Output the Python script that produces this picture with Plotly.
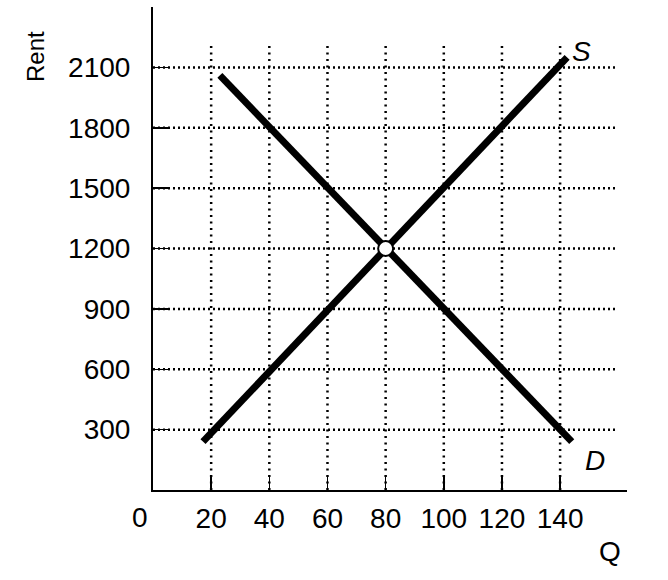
import plotly.graph_objects as go

# Data
x_ticks = [20, 40, 60, 80, 100, 120, 140]
y_ticks = [300, 600, 900, 1200, 1500, 1800, 2100]
supply_q = [17.2, 142.4]
supply_rent = [240, 2150]
demand_q = [23, 144]
demand_rent = [2060, 240]
equilibrium_q = [80]
equilibrium_rent = [1200]

FONT = "Liberation Sans"
W, H = 668, 580
L, R, T, B = 153, 41, 7, 90
PW, PH = W - L - R, H - T - B


def px(xp):
    return (xp - L) / PW


def py(yp):
    return (H - B - yp) / PH


fig = go.Figure()

hdot = dict(color="black", width=2.5, dash="2px,3px")
vdot = dict(color="black", width=2.5, dash="2px,4.5px")
shapes = []
for yv in y_ticks:
    shapes.append(dict(type="line", xref="x", yref="y", x0=0, x1=159, y0=yv, y1=yv,
                       line=hdot, layer="below"))
for xv in x_ticks:
    shapes.append(dict(type="line", xref="x", yref="y", x0=xv, x1=xv, y0=0, y1=2210,
                       line=vdot, layer="below"))

fig.add_trace(go.Scatter(x=supply_q, y=supply_rent, mode="lines",
                         line=dict(color="black", width=7), hoverinfo="skip", showlegend=False))
fig.add_trace(go.Scatter(x=demand_q, y=demand_rent, mode="lines",
                         line=dict(color="black", width=7), hoverinfo="skip", showlegend=False))
fig.add_trace(go.Scatter(x=equilibrium_q, y=equilibrium_rent, mode="markers",
                         marker=dict(size=15, color="white", line=dict(color="black", width=2)),
                         hoverinfo="skip", showlegend=False))


def ann(text, xp, yp, size, angle=0):
    return dict(text=text, x=px(xp), y=py(yp), xref="paper", yref="paper", showarrow=False,
                xanchor="center", yanchor="middle", textangle=angle,
                font=dict(size=size, family=FONT, color="black"))


annotations = [
    ann("Rent", 35, 57, 24, -90),
    ann("0", 140, 517, 28),
    ann("Q", 610, 551, 28),
    ann("<i>S</i>", 581, 52, 28),
    ann("<i>D</i>", 595, 460, 28),
]

fig.update_layout(
    width=W, height=H,
    margin=dict(l=L, r=R, t=T, b=B, autoexpand=False),
    plot_bgcolor="white", paper_bgcolor="white",
    showlegend=False,
    shapes=shapes,
    annotations=annotations,
    font=dict(family=FONT, size=28, color="black"),
    xaxis=dict(range=[0, 163], tickvals=x_ticks, ticktext=[str(v) for v in x_ticks],
               showgrid=False, zeroline=False, showline=True, linecolor="black", linewidth=2,
               ticks="inside", ticklen=15, tickwidth=1.5, tickcolor="black", automargin=False,
               ticklabelstandoff=2, tickfont=dict(size=28, family=FONT, color="black")),
    yaxis=dict(range=[0, 2400], tickvals=y_ticks, ticktext=[str(v) for v in y_ticks],
               showgrid=False, zeroline=False, showline=True, linecolor="black", linewidth=2,
               ticks="inside", ticklen=17, tickwidth=1.5, tickcolor="black", automargin=False,
               ticklabelstandoff=15, tickfont=dict(size=28, family=FONT, color="black")),
)

fig.write_html("out.html", config={"displayModeBar": False, "staticPlot": True},
               post_script="document.body.style.margin='0';")
